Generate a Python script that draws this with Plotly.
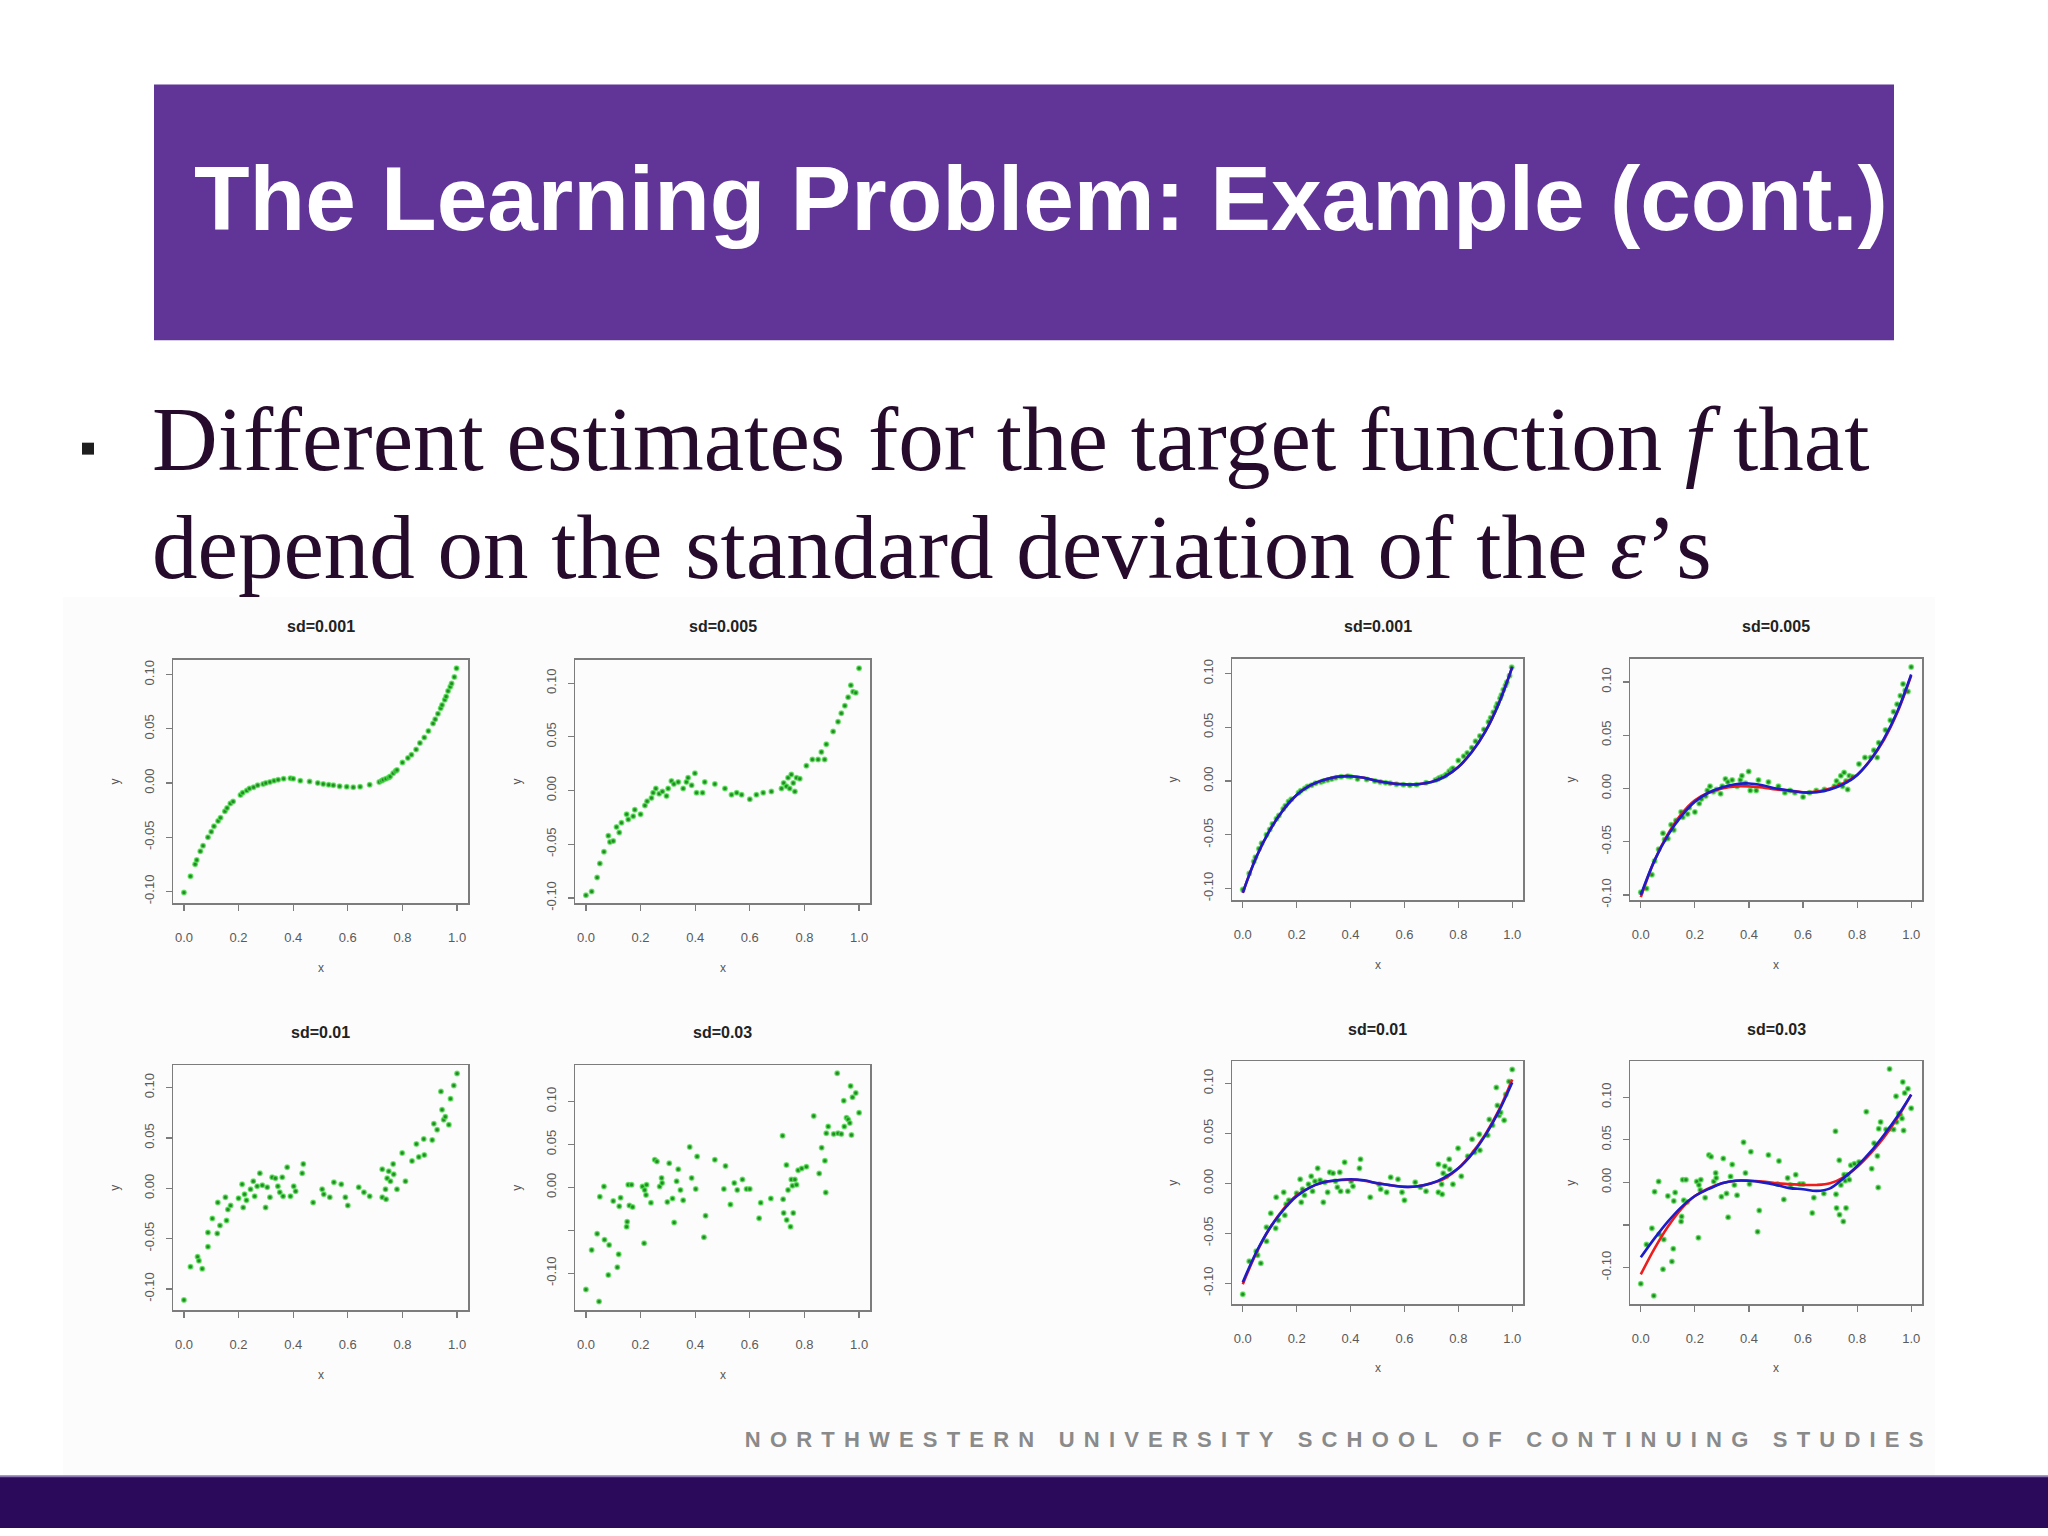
import plotly.graph_objects as go

W, H = 2048, 1536

# ---------------- data ----------------
sd001_x = [0.0,0.024,0.041,0.047,0.06,0.07,0.088,0.10,0.11,0.125,0.134,0.15,0.158,0.17,0.18,0.207,0.215,0.23,0.24,0.255,
           0.27,0.29,0.30,0.315,0.33,0.345,0.365,0.39,0.40,0.426,0.46,0.49,0.51,0.53,0.547,0.57,0.596,0.62,0.645,0.68,
           0.715,0.724,0.73,0.74,0.75,0.755,0.766,0.775,0.78,0.80,0.82,0.833,0.85,0.864,0.88,0.895,0.912,0.92,0.93,0.94,
           0.945,0.955,0.96,0.967,0.975,0.98,0.99,0.998]
sd001_y = [-0.101,-0.086,-0.075,-0.071,-0.063,-0.058,-0.050,-0.045,-0.040,-0.035,-0.032,-0.026,-0.023,-0.019,-0.017,-0.011,-0.009,-0.007,-0.005,-0.004,
           -0.002,-0.001,0.000,0.001,0.002,0.003,0.004,0.0045,0.004,0.002,0.0015,0.000,-0.001,-0.0015,-0.002,-0.003,-0.0035,-0.004,-0.0035,-0.0015,
           0.001,0.002,0.003,0.004,0.005,0.006,0.009,0.011,0.012,0.019,0.023,0.026,0.031,0.037,0.042,0.048,0.055,0.059,0.064,0.069,
           0.072,0.077,0.080,0.085,0.089,0.092,0.098,0.106]

sd005_x = [0.0,0.021,0.041,0.051,0.066,0.082,0.088,0.10,0.112,0.122,0.130,0.149,0.155,0.173,0.179,0.20,0.216,0.224,0.240,0.246,
           0.256,0.268,0.280,0.295,0.301,0.313,0.322,0.338,0.356,0.368,0.374,0.387,0.399,0.405,0.427,0.435,0.472,0.509,0.533,0.552,
           0.570,0.60,0.624,0.649,0.679,0.716,0.724,0.734,0.740,0.746,0.752,0.759,0.765,0.771,0.783,0.807,0.829,0.85,0.862,0.874,
           0.880,0.905,0.923,0.935,0.948,0.960,0.970,0.978,0.988,1.0]
sd005_y = [-0.0975,-0.094,-0.081,-0.068,-0.057,-0.042,-0.048,-0.047,-0.034,-0.039,-0.030,-0.022,-0.027,-0.024,-0.018,-0.022,-0.014,-0.010,-0.007,-0.002,
           0.002,-0.003,-0.001,-0.005,0.002,0.009,0.006,0.008,0.002,0.008,0.012,0.005,0.016,-0.002,-0.002,0.008,0.006,0.002,-0.004,-0.002,
           -0.004,-0.008,-0.004,-0.002,-0.001,0.002,0.007,0.004,0.012,0.002,0.015,0.007,-0.001,0.012,0.011,0.023,0.029,0.029,0.036,0.029,
           0.043,0.055,0.064,0.072,0.079,0.087,0.098,0.092,0.091,0.114]

sd01_x = [0.0,0.024,0.050,0.055,0.067,0.088,0.088,0.104,0.122,0.124,
          0.132,0.152,0.156,0.161,0.171,0.20,0.213,0.217,0.222,0.229,
          0.244,0.254,0.259,0.268,0.278,0.287,0.299,0.305,0.315,0.323,
          0.335,0.344,0.351,0.360,0.363,0.378,0.390,0.402,0.409,0.433,
          0.437,0.473,0.506,0.512,0.534,0.549,0.576,0.591,0.600,0.640,
          0.659,0.680,0.726,0.726,0.738,0.740,0.744,0.750,0.756,0.766,
          0.768,0.780,0.799,0.811,0.835,0.851,0.860,0.878,0.880,0.909,
          0.915,0.927,0.941,0.945,0.951,0.957,0.970,0.976,0.988,1.0]
sd01_y = [-0.111,-0.078,-0.068,-0.072,-0.080,-0.058,-0.044,-0.030,-0.045,-0.014,
          -0.037,-0.009,-0.032,-0.021,-0.017,-0.010,0.004,-0.019,-0.006,-0.012,
          -0.001,0.007,-0.008,0.002,0.015,0.003,-0.019,0.001,-0.009,0.011,
          0.010,0.002,-0.004,0.011,-0.008,0.021,-0.008,0.002,-0.003,0.015,
          0.024,-0.014,-0.001,-0.006,-0.009,0.006,0.004,-0.009,-0.017,0.001,
          -0.004,-0.008,0.019,-0.009,-0.001,-0.011,0.010,0.017,0.007,0.024,
          0.014,-0.001,0.035,0.007,0.027,0.044,0.031,0.049,0.033,0.048,
          0.064,0.058,0.096,0.078,0.068,0.071,0.063,0.089,0.102,0.114]

sd03_x = [0.0,0.021,0.041,0.048,0.051,0.066,0.068,0.082,0.085,0.10,
          0.115,0.12,0.122,0.127,0.149,0.151,0.155,0.159,0.167,0.171,
          0.207,0.213,0.215,0.22,0.222,0.238,0.252,0.26,0.27,0.277,
          0.279,0.298,0.305,0.317,0.323,0.332,0.338,0.346,0.356,0.38,
          0.387,0.402,0.407,0.432,0.438,0.472,0.505,0.511,0.529,0.543,
          0.554,0.573,0.588,0.60,0.634,0.640,0.677,0.72,0.722,0.724,
          0.734,0.735,0.74,0.749,0.752,0.756,0.759,0.765,0.771,0.777,
          0.79,0.807,0.834,0.854,0.863,0.875,0.878,0.88,0.887,0.907,
          0.92,0.923,0.935,0.944,0.946,0.954,0.96,0.966,0.969,0.972,
          0.976,0.988,1.0]
sd03_y = [-0.119,-0.073,-0.054,-0.133,-0.011,0.001,-0.061,-0.102,-0.067,-0.016,
          -0.093,-0.078,-0.022,-0.012,-0.046,-0.040,0.003,-0.021,0.003,-0.023,
          0.001,-0.065,-0.003,-0.009,0.003,-0.018,0.032,0.030,0.001,0.011,
          0.005,-0.017,0.028,-0.013,-0.041,0.007,0.021,-0.003,-0.015,0.047,
          0.011,-0.002,0.036,-0.058,-0.033,0.032,-0.002,0.025,-0.020,0.005,
          -0.003,0.009,-0.002,-0.002,-0.036,-0.018,-0.013,0.060,-0.014,-0.030,
          0.026,-0.038,-0.003,-0.046,0.009,0.002,-0.030,0.009,0.003,0.020,
          0.022,0.024,0.083,0.016,0.046,0.031,-0.006,0.063,0.071,0.062,
          0.133,0.063,0.062,0.101,0.071,0.081,0.079,0.075,0.118,0.061,
          0.105,0.110,0.087]

# fitted curves (right-hand panels), read at x = 0, 0.05, ..., 1
curve_x = [0.0,0.05,0.10,0.15,0.20,0.25,0.30,0.35,0.40,0.45,0.50,0.55,0.60,0.65,0.70,0.75,0.80,0.85,0.90,0.95,1.0]
red_001  = [-0.104,-0.071,-0.046,-0.027,-0.013,-0.004,0.001,0.004,0.0045,0.003,0.000,-0.002,-0.003,-0.003,-0.001,0.004,0.013,0.027,0.046,0.072,0.106]
blue_001 = [-0.104,-0.071,-0.046,-0.027,-0.013,-0.004,0.001,0.004,0.0045,0.003,0.000,-0.002,-0.003,-0.003,-0.001,0.004,0.013,0.027,0.046,0.072,0.106]
red_005  = [-0.102,-0.068,-0.043,-0.024,-0.011,-0.004,0.000,0.002,0.002,0.001,-0.001,-0.002,-0.0035,-0.003,0.000,0.005,0.013,0.027,0.046,0.072,0.106]
blue_005 = [-0.100,-0.068,-0.044,-0.026,-0.0125,-0.004,0.001,0.004,0.0047,0.003,0.000,-0.002,-0.0038,-0.0035,-0.001,0.004,0.0125,0.027,0.047,0.073,0.107]
red_01   = [-0.101,-0.070,-0.045,-0.026,-0.012,-0.004,0.001,0.003,0.0035,0.0025,0.000,-0.002,-0.0035,-0.003,0.000,0.005,0.015,0.030,0.049,0.073,0.104]
blue_01  = [-0.099,-0.069,-0.045,-0.027,-0.013,-0.004,0.001,0.003,0.004,0.003,0.000,-0.002,-0.0036,-0.003,0.000,0.006,0.015,0.029,0.048,0.072,0.101]
red_03   = [-0.108,-0.078,-0.052,-0.031,-0.016,-0.007,-0.001,0.002,0.002,0.001,-0.001,-0.002,-0.003,-0.003,-0.001,0.006,0.018,0.034,0.053,0.076,0.103]
blue_03  = [-0.088,-0.066,-0.046,-0.029,-0.016,-0.008,-0.001,0.002,0.002,0.000,-0.003,-0.0067,-0.008,-0.010,-0.007,0.005,0.019,0.036,0.056,0.078,0.103]

panel_titles = ["sd=0.001", "sd=0.005", "sd=0.01", "sd=0.03"]
x_tickvals = [0.0, 0.2, 0.4, 0.6, 0.8, 1.0]
x_ticktext = ["0.0", "0.2", "0.4", "0.6", "0.8", "1.0"]
y_tickvals = [-0.10, -0.05, 0.00, 0.05, 0.10]
y_ticktext = ["-0.10", "-0.05", "0.00", "0.05", "0.10"]
y_ticktext_sparse = ["-0.10", "", "0.00", "0.05", "0.10"]

title_text = "The Learning Problem: Example (cont.)"
bullet_line1 = "Different estimates for the target function <i>f</i> that"
bullet_line2 = "depend on the standard deviation of the <i>ε</i>’s"
footer_text = "NORTHWESTERN UNIVERSITY SCHOOL OF CONTINUING STUDIES"

# ---------------- layout helpers ----------------
def px(x):
    return x / W

def py(y):
    return 1 - y / H

datasets = [(sd001_x, sd001_y), (sd005_x, sd005_y), (sd01_x, sd01_y), (sd03_x, sd03_y)]
fits = [(red_001, blue_001), (red_005, blue_005), (red_01, blue_01), (red_03, blue_03)]
yranges = [[-0.111, 0.114], [-0.105, 0.122], [-0.121, 0.122], [-0.143, 0.142]]

boxes = [
    (173, 468, 663, 908), (575, 870, 663, 908),
    (173, 468, 1071, 1317), (575, 870, 1071, 1317),
    (1232, 1523, 662, 905), (1630, 1922, 662, 905),
    (1232, 1523, 1067, 1311), (1630, 1922, 1067, 1311),
]
title_y = [630, 630, 1038, 1038, 630, 630, 1035, 1035]
xlab_y = [973, 973, 1382, 1382, 970, 970, 1375, 1375]
ylab_x = [115, 517, 115, 517, 1173, 1571, 1173, 1571]

fig = go.Figure()
layout = {}
annotations = []

tick_font = dict(family="Liberation Sans, Arial, sans-serif", size=13, color="#5a5a5a")

for p in range(8):
    i = p + 1
    d = p % 4
    right = p >= 4
    xa = "x" if i == 1 else f"x{i}"
    ya = "y" if i == 1 else f"y{i}"
    x0, x1, yt, yb = boxes[p]
    xs, ys = datasets[d]
    fig.add_trace(go.Scatter(
        x=xs, y=ys, mode="markers", xaxis=xa, yaxis=ya, showlegend=False,
        marker=dict(size=4.5, color="#2a862a", line=dict(width=1.5, color="rgba(70,225,70,0.7)")),
        hoverinfo="skip"))
    if right:
        rv, bv = fits[d]
        fig.add_trace(go.Scatter(x=curve_x, y=rv, mode="lines", xaxis=xa, yaxis=ya, showlegend=False,
                                 line=dict(color="#ee1c1c", width=2.6, shape="spline"), hoverinfo="skip"))
        fig.add_trace(go.Scatter(x=curve_x, y=bv, mode="lines", xaxis=xa, yaxis=ya, showlegend=False,
                                 line=dict(color="#1c1cc8", width=2.6, shape="spline"), hoverinfo="skip"))

    common = dict(showgrid=False, zeroline=False, showline=True, mirror=True,
                  linecolor="#7c7c7c", linewidth=1.5, ticks="outside", ticklen=6,
                  tickcolor="#7c7c7c", tickwidth=1.2, tickfont=tick_font, fixedrange=True)
    layout["xaxis" + ("" if i == 1 else str(i))] = dict(
        domain=[px(x0), px(x1)], anchor=ya, range=[-0.04, 1.04],
        tickvals=x_tickvals, ticktext=x_ticktext, ticklabelstandoff=16, **common)
    layout["yaxis" + ("" if i == 1 else str(i))] = dict(
        domain=[py(yb), py(yt)], anchor=xa, range=yranges[d],
        tickvals=y_tickvals, ticktext=(y_ticktext_sparse if d == 3 else y_ticktext),
        tickangle=-90, ticklabelstandoff=6, **common)

    cx = (x0 + x1) / 2
    annotations.append(dict(x=px(cx), y=py(title_y[p]), xref="paper", yref="paper",
                            text="<b>" + panel_titles[d] + "</b>", showarrow=False,
                            font=dict(family="Liberation Sans, Arial, sans-serif", size=16, color="#222222"),
                            xanchor="center", yanchor="middle"))
    annotations.append(dict(x=px(cx), y=py(xlab_y[p]), xref="paper", yref="paper", text="x",
                            showarrow=False, font=dict(family="Liberation Sans, Arial, sans-serif", size=12, color="#555555"),
                            xanchor="center", yanchor="middle"))
    annotations.append(dict(x=px(ylab_x[p]), y=py((yt + yb) / 2), xref="paper", yref="paper", text="y",
                            showarrow=False, textangle=-90,
                            font=dict(family="Liberation Sans, Arial, sans-serif", size=12, color="#555555"),
                            xanchor="center", yanchor="middle"))

annotations.append(dict(x=px(192), y=py(200), xref="paper", yref="paper", text="<b>" + title_text + "</b>",
                        showarrow=False, xanchor="left", yanchor="middle",
                        font=dict(family="Liberation Sans, Arial, sans-serif", size=91, color="white")))
annotations.append(dict(x=px(150), y=py(442), xref="paper", yref="paper", text=bullet_line1,
                        showarrow=False, xanchor="left", yanchor="middle",
                        font=dict(family="Liberation Serif, Times New Roman, serif", size=91, color="#260b2c")))
annotations.append(dict(x=px(150), y=py(550), xref="paper", yref="paper", text=bullet_line2,
                        showarrow=False, xanchor="left", yanchor="middle",
                        font=dict(family="Liberation Serif, Times New Roman, serif", size=91, color="#260b2c")))
annotations.append(dict(x=px(1338), y=py(1447), xref="paper", yref="paper", text=footer_text,
                        showarrow=False, xanchor="center", yanchor="middle",
                        font=dict(family="Liberation Sans, Arial, sans-serif", size=22, color="#8a8a8a", weight=600)))

shapes = [
    dict(type="rect", xref="paper", yref="paper", x0=px(63), x1=px(1935), y0=py(1484), y1=py(600),
         fillcolor="#fcfcfc", line=dict(width=0), layer="below"),
    dict(type="rect", xref="paper", yref="paper", x0=px(154), x1=px(1894), y0=py(342), y1=py(85),
         fillcolor="#613598", line=dict(width=0), layer="below"),
    dict(type="rect", xref="paper", yref="paper", x0=px(82), x1=px(94), y0=py(457), y1=py(445),
         fillcolor="#1e1e1e", line=dict(width=0), layer="below"),
    dict(type="rect", xref="paper", yref="paper", x0=0, x1=1, y0=0, y1=py(1484),
         fillcolor="#2c0a5b", line=dict(width=0), layer="above"),
    dict(type="rect", xref="paper", yref="paper", x0=0, x1=1, y0=py(1485), y1=py(1483),
         fillcolor="#8c78b0", line=dict(width=0), layer="above"),
]

fig.update_layout(
    width=W, height=H, autosize=False,
    margin=dict(l=0, r=0, t=0, b=0, pad=0),
    paper_bgcolor="white", plot_bgcolor="white",
    showlegend=False, annotations=annotations, shapes=shapes, **layout)

post = """
document.documentElement.style.cssText = 'margin:0;padding:0;width:2048px;height:1536px;overflow:hidden;';
document.body.style.cssText = 'margin:0;padding:0;width:2048px;height:1536px;overflow:hidden;';
var gd = document.getElementById('{plot_id}');
function spaceFooter(){
  gd.querySelectorAll('text').forEach(function(t){
    if (t.textContent.indexOf('NORTHWESTERN') === 0) { t.setAttribute('letter-spacing', '9.2px'); }
  });
}
spaceFooter();
if (gd.on) { gd.on('plotly_afterplot', spaceFooter); }
"""

fig.write_html("out.html", config={"displayModeBar": False, "staticPlot": True}, post_script=post)
